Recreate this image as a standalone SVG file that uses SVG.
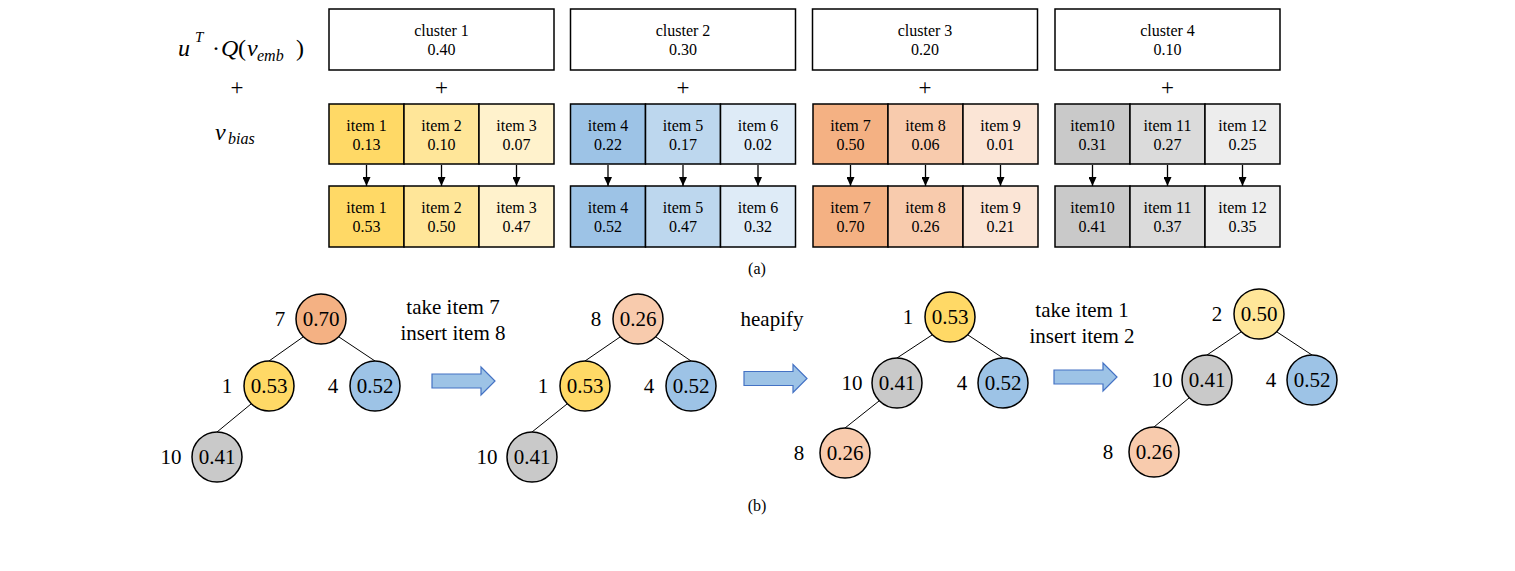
<svg xmlns="http://www.w3.org/2000/svg" width="1515" height="571" viewBox="0 0 1515 571">
<style>
text{font-family:"Liberation Serif","Times New Roman",serif;fill:#000}
.t16{font-size:16px;text-anchor:middle}
.t21{font-size:21px;text-anchor:middle}
.plus{font-size:23px;text-anchor:middle}
.math{font-style:italic}
.box{fill:#fff;stroke:#000;stroke-width:1.5}
.cell{stroke:#000;stroke-width:1.5}
.edge{stroke:#000;stroke-width:1;fill:none}
.arr{stroke:#000;stroke-width:1.3;fill:none}
.node{stroke:#000;stroke-width:1.5}
.big{fill:#9DC3E6;stroke:#4472C4;stroke-width:1.2}
.y1{fill:#FFD966}.y2{fill:#FFE699}.y3{fill:#FFF2CC}
.b1{fill:#9DC3E6}.b2{fill:#BDD7EE}.b3{fill:#DEEBF7}
.o1{fill:#F4B183}.o2{fill:#F8CBAD}.o3{fill:#FBE5D6}
.g1{fill:#C9C9C9}.g2{fill:#DBDBDB}.g3{fill:#EDEDED}
</style>
<defs>
<marker id="ahd" markerUnits="userSpaceOnUse" markerWidth="8" markerHeight="9" refX="4" refY="9" orient="0" viewBox="0 0 8 9">
<path d="M0,0 L8,0 L4,9 Z" fill="#000"/>
</marker>
<path id="blk" d="M0,7 H49 V0 L63,14 L49,28 V21 H0 Z"/>
</defs>

<g id="left-labels">
<text class="math" font-size="24"><tspan x="178" y="56">u</tspan><tspan x="195" y="42" font-size="15">T</tspan><tspan x="212" y="56" font-style="normal">·</tspan><tspan x="221" y="56">Q</tspan><tspan x="238" y="56" font-style="normal">(</tspan><tspan x="247" y="56">v</tspan><tspan x="257" y="61" font-size="16">emb</tspan><tspan x="296" y="56" font-style="normal">)</tspan></text>
<text class="plus" x="237" y="95">+</text>
<text class="math" font-size="24"><tspan x="215" y="140">v</tspan><tspan x="228" y="144" font-size="16">bias</tspan></text>
</g>

<g id="cluster1">
<rect class="box" x="329" y="9" width="225" height="61"/>
<text class="t16" x="441.5" y="36">cluster 1</text>
<text class="t16" x="441.5" y="55">0.40</text>
<text class="plus" x="441.5" y="95">+</text>
</g>
<g id="cluster2">
<rect class="box" x="570.5" y="9" width="225" height="61"/>
<text class="t16" x="683" y="36">cluster 2</text>
<text class="t16" x="683" y="55">0.30</text>
<text class="plus" x="683" y="95">+</text>
</g>
<g id="cluster3">
<rect class="box" x="812.5" y="9" width="225" height="61"/>
<text class="t16" x="925" y="36">cluster 3</text>
<text class="t16" x="925" y="55">0.20</text>
<text class="plus" x="925" y="95">+</text>
</g>
<g id="cluster4">
<rect class="box" x="1055" y="9" width="225" height="61"/>
<text class="t16" x="1167.5" y="36">cluster 4</text>
<text class="t16" x="1167.5" y="55">0.10</text>
<text class="plus" x="1167.5" y="95">+</text>
</g>

<g id="bias-items">
<rect class="cell y1" x="329" y="104" width="75" height="60"/><text class="t16" x="366.5" y="131">item 1</text><text class="t16" x="366.5" y="150">0.13</text>
<rect class="cell y2" x="404" y="104" width="75" height="60"/><text class="t16" x="441.5" y="131">item 2</text><text class="t16" x="441.5" y="150">0.10</text>
<rect class="cell y3" x="479" y="104" width="75" height="60"/><text class="t16" x="516.5" y="131">item 3</text><text class="t16" x="516.5" y="150">0.07</text>
<rect class="cell b1" x="570.5" y="104" width="75" height="60"/><text class="t16" x="608" y="131">item 4</text><text class="t16" x="608" y="150">0.22</text>
<rect class="cell b2" x="645.5" y="104" width="75" height="60"/><text class="t16" x="683" y="131">item 5</text><text class="t16" x="683" y="150">0.17</text>
<rect class="cell b3" x="720.5" y="104" width="75" height="60"/><text class="t16" x="758" y="131">item 6</text><text class="t16" x="758" y="150">0.02</text>
<rect class="cell o1" x="813" y="104" width="75" height="60"/><text class="t16" x="850.5" y="131">item 7</text><text class="t16" x="850.5" y="150">0.50</text>
<rect class="cell o2" x="888" y="104" width="75" height="60"/><text class="t16" x="925.5" y="131">item 8</text><text class="t16" x="925.5" y="150">0.06</text>
<rect class="cell o3" x="963" y="104" width="75" height="60"/><text class="t16" x="1000.5" y="131">item 9</text><text class="t16" x="1000.5" y="150">0.01</text>
<rect class="cell g1" x="1055" y="104" width="75" height="60"/><text class="t16" x="1092.5" y="131">item10</text><text class="t16" x="1092.5" y="150">0.31</text>
<rect class="cell g2" x="1130" y="104" width="75" height="60"/><text class="t16" x="1167.5" y="131">item 11</text><text class="t16" x="1167.5" y="150">0.27</text>
<rect class="cell g3" x="1205" y="104" width="75" height="60"/><text class="t16" x="1242.5" y="131">item 12</text><text class="t16" x="1242.5" y="150">0.25</text>
</g>

<g id="sum-items">
<rect class="cell y1" x="329" y="186" width="75" height="61"/><text class="t16" x="366.5" y="213">item 1</text><text class="t16" x="366.5" y="232">0.53</text>
<rect class="cell y2" x="404" y="186" width="75" height="61"/><text class="t16" x="441.5" y="213">item 2</text><text class="t16" x="441.5" y="232">0.50</text>
<rect class="cell y3" x="479" y="186" width="75" height="61"/><text class="t16" x="516.5" y="213">item 3</text><text class="t16" x="516.5" y="232">0.47</text>
<rect class="cell b1" x="570.5" y="186" width="75" height="61"/><text class="t16" x="608" y="213">item 4</text><text class="t16" x="608" y="232">0.52</text>
<rect class="cell b2" x="645.5" y="186" width="75" height="61"/><text class="t16" x="683" y="213">item 5</text><text class="t16" x="683" y="232">0.47</text>
<rect class="cell b3" x="720.5" y="186" width="75" height="61"/><text class="t16" x="758" y="213">item 6</text><text class="t16" x="758" y="232">0.32</text>
<rect class="cell o1" x="813" y="186" width="75" height="61"/><text class="t16" x="850.5" y="213">item 7</text><text class="t16" x="850.5" y="232">0.70</text>
<rect class="cell o2" x="888" y="186" width="75" height="61"/><text class="t16" x="925.5" y="213">item 8</text><text class="t16" x="925.5" y="232">0.26</text>
<rect class="cell o3" x="963" y="186" width="75" height="61"/><text class="t16" x="1000.5" y="213">item 9</text><text class="t16" x="1000.5" y="232">0.21</text>
<rect class="cell g1" x="1055" y="186" width="75" height="61"/><text class="t16" x="1092.5" y="213">item10</text><text class="t16" x="1092.5" y="232">0.41</text>
<rect class="cell g2" x="1130" y="186" width="75" height="61"/><text class="t16" x="1167.5" y="213">item 11</text><text class="t16" x="1167.5" y="232">0.37</text>
<rect class="cell g3" x="1205" y="186" width="75" height="61"/><text class="t16" x="1242.5" y="213">item 12</text><text class="t16" x="1242.5" y="232">0.35</text>
</g>

<g id="connectors">
<line class="arr" x1="366.5" y1="165" x2="366.5" y2="186" marker-end="url(#ahd)"/>
<line class="arr" x1="441.5" y1="165" x2="441.5" y2="186" marker-end="url(#ahd)"/>
<line class="arr" x1="516.5" y1="165" x2="516.5" y2="186" marker-end="url(#ahd)"/>
<line class="arr" x1="608" y1="165" x2="608" y2="186" marker-end="url(#ahd)"/>
<line class="arr" x1="683" y1="165" x2="683" y2="186" marker-end="url(#ahd)"/>
<line class="arr" x1="758" y1="165" x2="758" y2="186" marker-end="url(#ahd)"/>
<line class="arr" x1="850.5" y1="165" x2="850.5" y2="186" marker-end="url(#ahd)"/>
<line class="arr" x1="925.5" y1="165" x2="925.5" y2="186" marker-end="url(#ahd)"/>
<line class="arr" x1="1000.5" y1="165" x2="1000.5" y2="186" marker-end="url(#ahd)"/>
<line class="arr" x1="1092.5" y1="165" x2="1092.5" y2="186" marker-end="url(#ahd)"/>
<line class="arr" x1="1167.5" y1="165" x2="1167.5" y2="186" marker-end="url(#ahd)"/>
<line class="arr" x1="1242.5" y1="165" x2="1242.5" y2="186" marker-end="url(#ahd)"/>
<line class="edge" x1="303" y1="337" x2="269" y2="361"/>
<line class="edge" x1="339" y1="337" x2="375" y2="361"/>
<line class="edge" x1="251" y1="404" x2="217" y2="432"/>
<line class="edge" x1="620" y1="337" x2="585" y2="361"/>
<line class="edge" x1="656" y1="337" x2="691" y2="361"/>
<line class="edge" x1="567" y1="404" x2="532" y2="432"/>
<line class="edge" x1="932" y1="335" x2="897" y2="358"/>
<line class="edge" x1="968" y1="335" x2="1003" y2="358"/>
<line class="edge" x1="879" y1="401" x2="845" y2="428"/>
<line class="edge" x1="1241" y1="332" x2="1207" y2="355"/>
<line class="edge" x1="1277" y1="332" x2="1312" y2="355"/>
<line class="edge" x1="1189" y1="398" x2="1154" y2="427"/>
<use href="#blk" class="big" transform="translate(432,367)"/>
<use href="#blk" class="big" transform="translate(744,364.5)"/>
<use href="#blk" class="big" transform="translate(1054,363)"/>
</g>

<g id="captions">
<text class="t16" x="757" y="274">(a)</text>
<text class="t16" x="757" y="511">(b)</text>
<text class="t21" x="453" y="314">take item 7</text>
<text class="t21" x="453" y="340">insert item 8</text>
<text class="t21" x="772" y="326">heapify</text>
<text class="t21" x="1082" y="317">take item 1</text>
<text class="t21" x="1082" y="343">insert item 2</text>
</g>

<g id="tree1">
<g id="t1-n7"><circle class="node o1" cx="321" cy="319" r="25"/><text class="t21" x="321" y="326">0.70</text><text class="t21" x="280" y="326">7</text></g>
<g id="t1-n1"><circle class="node y1" cx="269" cy="386" r="25"/><text class="t21" x="269" y="393">0.53</text><text class="t21" x="227" y="393">1</text></g>
<g id="t1-n4"><circle class="node b1" cx="375" cy="386" r="25"/><text class="t21" x="375" y="393">0.52</text><text class="t21" x="333" y="393">4</text></g>
<g id="t1-n10"><circle class="node g1" cx="217" cy="457" r="25"/><text class="t21" x="217" y="464">0.41</text><text class="t21" x="171" y="464">10</text></g>
</g>
<g id="tree2">
<g id="t2-n8"><circle class="node o2" cx="638" cy="319" r="25"/><text class="t21" x="638" y="326">0.26</text><text class="t21" x="596" y="326">8</text></g>
<g id="t2-n1"><circle class="node y1" cx="585" cy="386" r="25"/><text class="t21" x="585" y="393">0.53</text><text class="t21" x="543" y="393">1</text></g>
<g id="t2-n4"><circle class="node b1" cx="691" cy="386" r="25"/><text class="t21" x="691" y="393">0.52</text><text class="t21" x="649" y="393">4</text></g>
<g id="t2-n10"><circle class="node g1" cx="532" cy="457" r="25"/><text class="t21" x="532" y="464">0.41</text><text class="t21" x="487" y="464">10</text></g>
</g>
<g id="tree3">
<g id="t3-n1"><circle class="node y1" cx="950" cy="317" r="25"/><text class="t21" x="950" y="324">0.53</text><text class="t21" x="908" y="324">1</text></g>
<g id="t3-n10"><circle class="node g1" cx="897" cy="383" r="25"/><text class="t21" x="897" y="390">0.41</text><text class="t21" x="852" y="390">10</text></g>
<g id="t3-n4"><circle class="node b1" cx="1003" cy="383" r="25"/><text class="t21" x="1003" y="390">0.52</text><text class="t21" x="962" y="390">4</text></g>
<g id="t3-n8"><circle class="node o2" cx="845" cy="453" r="25"/><text class="t21" x="845" y="460">0.26</text><text class="t21" x="799" y="460">8</text></g>
</g>
<g id="tree4">
<g id="t4-n2"><circle class="node y2" cx="1259" cy="314" r="25"/><text class="t21" x="1259" y="321">0.50</text><text class="t21" x="1217" y="321">2</text></g>
<g id="t4-n10"><circle class="node g1" cx="1207" cy="380" r="25"/><text class="t21" x="1207" y="387">0.41</text><text class="t21" x="1162" y="387">10</text></g>
<g id="t4-n4"><circle class="node b1" cx="1312" cy="380" r="25"/><text class="t21" x="1312" y="387">0.52</text><text class="t21" x="1271" y="387">4</text></g>
<g id="t4-n8"><circle class="node o2" cx="1154" cy="452" r="25"/><text class="t21" x="1154" y="459">0.26</text><text class="t21" x="1108" y="459">8</text></g>
</g>
</svg>
